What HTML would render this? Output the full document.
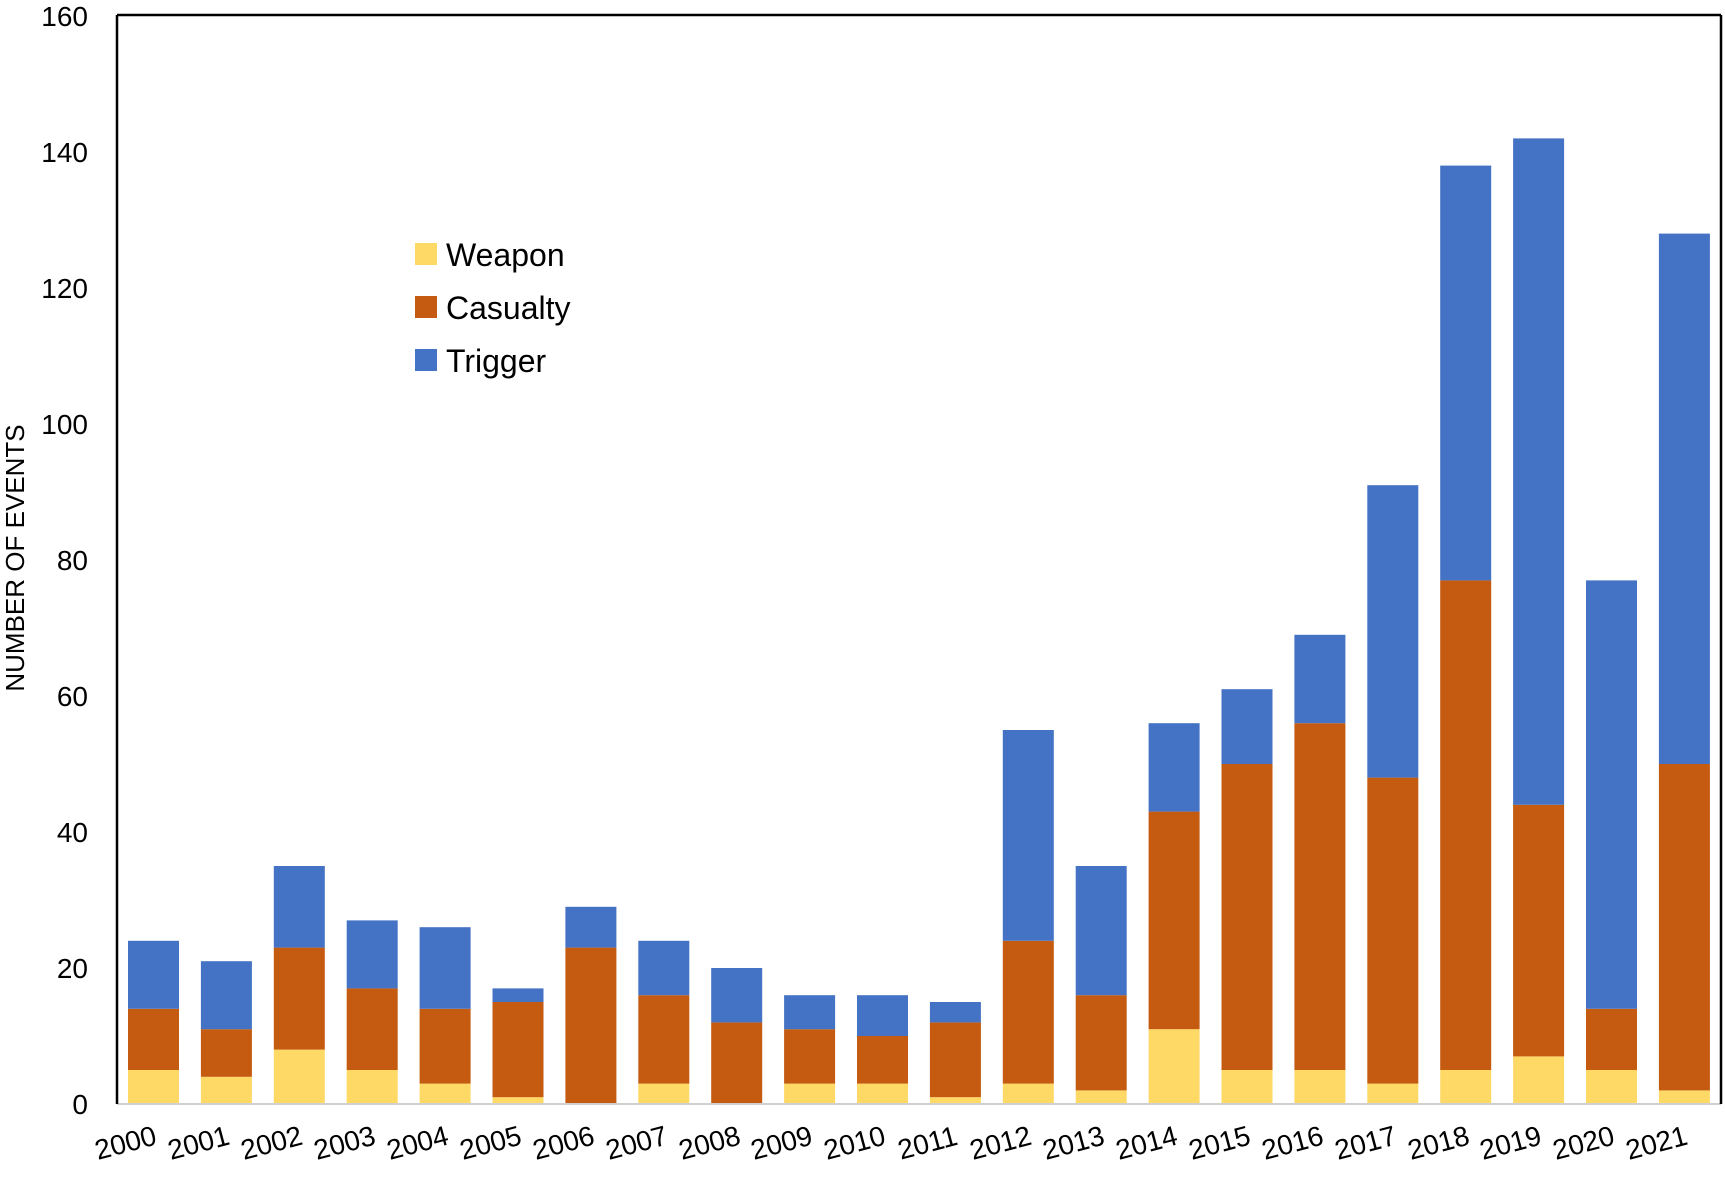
<!DOCTYPE html>
<html><head><meta charset="utf-8"><style>body{margin:0;background:#fff}</style></head>
<body>
<svg width="1725" height="1172" xmlns="http://www.w3.org/2000/svg" font-family="Liberation Sans, sans-serif">
<rect width="1725" height="1172" fill="#fff"/>
<g transform="translate(0,1104) scale(1,-6.8)">
<g fill="#FFD966">
<rect x="128" y="0" width="51" height="5"/><rect x="200.9" y="0" width="51" height="4"/><rect x="273.8" y="0" width="51" height="8"/><rect x="346.7" y="0" width="51" height="5"/><rect x="419.6" y="0" width="51" height="3"/><rect x="492.5" y="0" width="51" height="1"/><rect x="638.3" y="0" width="51" height="3"/><rect x="784.1" y="0" width="51" height="3"/><rect x="857" y="0" width="51" height="3"/><rect x="929.9" y="0" width="51" height="1"/><rect x="1002.8" y="0" width="51" height="3"/><rect x="1075.7" y="0" width="51" height="2"/><rect x="1148.6" y="0" width="51" height="11"/><rect x="1221.5" y="0" width="51" height="5"/><rect x="1294.4" y="0" width="51" height="5"/><rect x="1367.3" y="0" width="51" height="3"/><rect x="1440.2" y="0" width="51" height="5"/><rect x="1513.1" y="0" width="51" height="7"/><rect x="1586" y="0" width="51" height="5"/><rect x="1658.9" y="0" width="51" height="2"/>
</g>
<g fill="#C55A11">
<rect x="128" y="5" width="51" height="9"/><rect x="200.9" y="4" width="51" height="7"/><rect x="273.8" y="8" width="51" height="15"/><rect x="346.7" y="5" width="51" height="12"/><rect x="419.6" y="3" width="51" height="11"/><rect x="492.5" y="1" width="51" height="14"/><rect x="565.4" y="0" width="51" height="23"/><rect x="638.3" y="3" width="51" height="13"/><rect x="711.2" y="0" width="51" height="12"/><rect x="784.1" y="3" width="51" height="8"/><rect x="857" y="3" width="51" height="7"/><rect x="929.9" y="1" width="51" height="11"/><rect x="1002.8" y="3" width="51" height="21"/><rect x="1075.7" y="2" width="51" height="14"/><rect x="1148.6" y="11" width="51" height="32"/><rect x="1221.5" y="5" width="51" height="45"/><rect x="1294.4" y="5" width="51" height="51"/><rect x="1367.3" y="3" width="51" height="45"/><rect x="1440.2" y="5" width="51" height="72"/><rect x="1513.1" y="7" width="51" height="37"/><rect x="1586" y="5" width="51" height="9"/><rect x="1658.9" y="2" width="51" height="48"/>
</g>
<g fill="#4472C4">
<rect x="128" y="14" width="51" height="10"/><rect x="200.9" y="11" width="51" height="10"/><rect x="273.8" y="23" width="51" height="12"/><rect x="346.7" y="17" width="51" height="10"/><rect x="419.6" y="14" width="51" height="12"/><rect x="492.5" y="15" width="51" height="2"/><rect x="565.4" y="23" width="51" height="6"/><rect x="638.3" y="16" width="51" height="8"/><rect x="711.2" y="12" width="51" height="8"/><rect x="784.1" y="11" width="51" height="5"/><rect x="857" y="10" width="51" height="6"/><rect x="929.9" y="12" width="51" height="3"/><rect x="1002.8" y="24" width="51" height="31"/><rect x="1075.7" y="16" width="51" height="19"/><rect x="1148.6" y="43" width="51" height="13"/><rect x="1221.5" y="50" width="51" height="11"/><rect x="1294.4" y="56" width="51" height="13"/><rect x="1367.3" y="48" width="51" height="43"/><rect x="1440.2" y="77" width="51" height="61"/><rect x="1513.1" y="44" width="51" height="98"/><rect x="1586" y="14" width="51" height="63"/><rect x="1658.9" y="50" width="51" height="78"/>
</g>
</g>
<line x1="117" y1="1104" x2="1721" y2="1104" stroke="#d0d0d0" stroke-width="2"/>
<line x1="117" y1="15" x2="1721" y2="15" stroke="#000" stroke-width="2.5"/>
<line x1="117" y1="15" x2="117" y2="1104" stroke="#000" stroke-width="2.5"/>
<line x1="1721" y1="15" x2="1721" y2="1104" stroke="#000" stroke-width="2.5"/>
<g font-size="28" text-anchor="end" fill="#000">
<text x="88" y="1114">0</text><text x="88" y="978">20</text><text x="88" y="842">40</text><text x="88" y="706">60</text><text x="88" y="570">80</text><text x="88" y="434">100</text><text x="88" y="298">120</text><text x="88" y="162">140</text><text x="88" y="26">160</text>
</g>
<text transform="translate(24,558) rotate(-90)" font-size="26" text-anchor="middle">NUMBER OF EVENTS</text>
<g font-size="32">
<rect x="415" y="243" width="22" height="22" fill="#FFD966"/><text x="446" y="266">Weapon</text>
<rect x="415" y="296" width="22" height="22" fill="#C55A11"/><text x="446" y="319">Casualty</text>
<rect x="415" y="349" width="22" height="22" fill="#4472C4"/><text x="446" y="372">Trigger</text>
</g>
<g font-size="28" text-anchor="middle">
<text transform="translate(128,1152) rotate(-15)">2000</text>
<text transform="translate(201,1152) rotate(-15)">2001</text>
<text transform="translate(274,1152) rotate(-15)">2002</text>
<text transform="translate(347,1152) rotate(-15)">2003</text>
<text transform="translate(420,1152) rotate(-15)">2004</text>
<text transform="translate(493,1152) rotate(-15)">2005</text>
<text transform="translate(566,1152) rotate(-15)">2006</text>
<text transform="translate(639,1152) rotate(-15)">2007</text>
<text transform="translate(712,1152) rotate(-15)">2008</text>
<text transform="translate(784,1152) rotate(-15)">2009</text>
<text transform="translate(857,1152) rotate(-15)">2010</text>
<text transform="translate(930,1152) rotate(-15)">2011</text>
<text transform="translate(1003,1152) rotate(-15)">2012</text>
<text transform="translate(1076,1152) rotate(-15)">2013</text>
<text transform="translate(1149,1152) rotate(-15)">2014</text>
<text transform="translate(1222,1152) rotate(-15)">2015</text>
<text transform="translate(1295,1152) rotate(-15)">2016</text>
<text transform="translate(1368,1152) rotate(-15)">2017</text>
<text transform="translate(1441,1152) rotate(-15)">2018</text>
<text transform="translate(1513,1152) rotate(-15)">2019</text>
<text transform="translate(1586,1152) rotate(-15)">2020</text>
<text transform="translate(1659,1152) rotate(-15)">2021</text>
</g>
</svg>
</body></html>
